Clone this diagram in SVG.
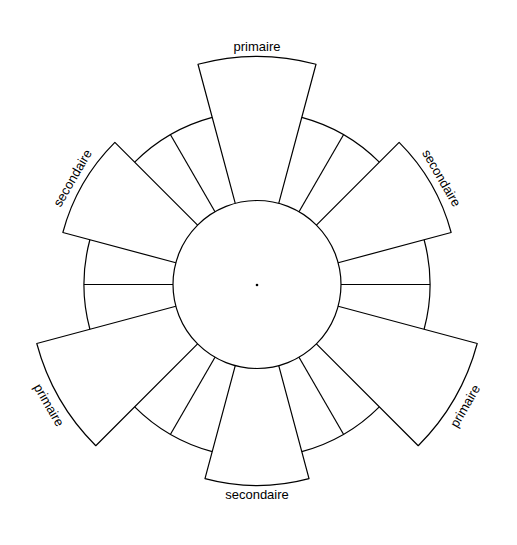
<svg xmlns="http://www.w3.org/2000/svg" width="517" height="545" viewBox="0 0 517 545">
<style>
.s{fill:none;stroke:#000;stroke-width:1.2;stroke-linejoin:round}
.t{font-family:"Liberation Sans",Arial,sans-serif;font-size:13px;fill:#000;text-anchor:middle;dominant-baseline:central}
</style>
<rect width="517" height="545" fill="#fff"/>
<g id="connectors" class="s">
<path d="M424.11,239.72 A173,173 0 0 1 424.11,329.28"/>
<path d="M379.33,162.17 A173,173 0 0 0 301.78,117.39"/>
<path d="M212.22,117.39 A173,173 0 0 0 134.67,162.17"/>
<path d="M89.89,239.72 A173,173 0 0 0 89.89,329.28"/>
<path d="M134.67,406.83 A173,173 0 0 0 212.22,451.61"/>
<path d="M301.78,451.61 A173,173 0 0 0 379.33,406.83"/>
<line x1="341" y1="284.5" x2="430" y2="284.5"/>
<line x1="299" y1="211.75" x2="343.5" y2="134.68"/>
<line x1="215" y1="211.75" x2="170.5" y2="134.68"/>
<line x1="173" y1="284.5" x2="84" y2="284.5"/>
<line x1="215" y1="357.25" x2="170.5" y2="434.32"/>
<line x1="299" y1="357.25" x2="343.5" y2="434.32"/>
</g>
<g id="sector-top" class="s">
<path d="M278.74,203.36 L316.01,64.27 A228,228 0 0 0 197.99,64.27 L235.26,203.36"/>
</g>
<g id="sector-upper-right" class="s">
<path d="M338.14,262.76 L451.15,232.48 A201,201 0 0 0 399.13,142.37 L316.40,225.10"/>
</g>
<g id="sector-upper-left" class="s">
<path d="M197.60,225.10 L114.87,142.37 A201,201 0 0 0 62.85,232.48 L175.86,262.76"/>
</g>
<g id="sector-lower-left" class="s">
<path d="M175.86,306.24 L36.77,343.51 A228,228 0 0 0 95.78,445.72 L197.60,343.90"/>
</g>
<g id="sector-bottom" class="s">
<path d="M235.26,365.64 L204.98,478.65 A201,201 0 0 0 309.02,478.65 L278.74,365.64"/>
</g>
<g id="sector-lower-right" class="s">
<path d="M316.40,343.90 L418.22,445.72 A228,228 0 0 0 477.23,343.51 L338.14,306.24"/>
</g>
<g id="center">
<circle cx="257" cy="284.5" r="84" class="s"/>
<circle cx="257" cy="285" r="1.3" fill="#000"/>
</g>
<g id="labels">
<text class="t" x="257" y="46.5">primaire</text>
<text class="t" transform="translate(441.5,178) rotate(60)">secondaire</text>
<text class="t" transform="translate(72.5,178) rotate(-60)">secondaire</text>
<text class="t" transform="translate(465,406) rotate(-60)">primaire</text>
<text class="t" transform="translate(49,405) rotate(60)">primaire</text>
<text class="t" x="257" y="494">secondaire</text>
</g>
</svg>
